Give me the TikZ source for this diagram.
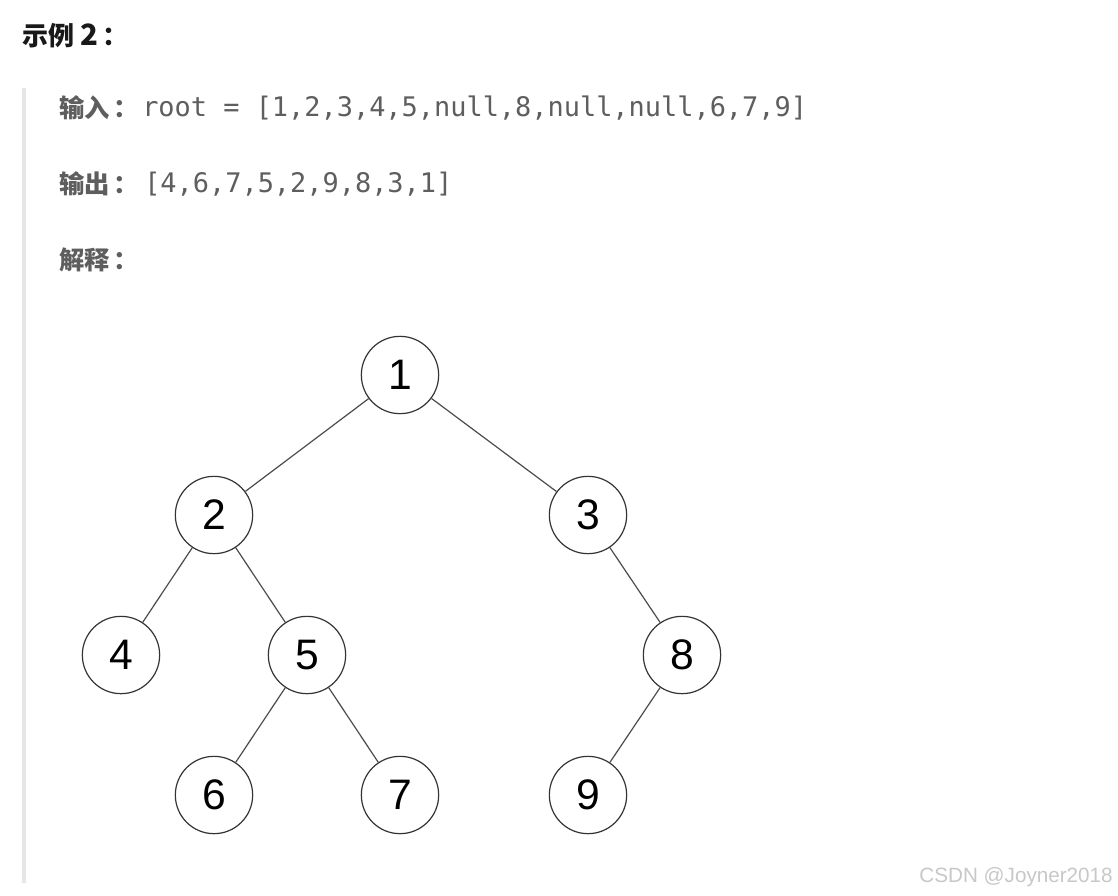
\documentclass[tikz,border=0pt]{standalone}
\usepackage{fontspec}
\setsansfont{Liberation Sans}
\newfontfamily\cjk{Noto Sans CJK SC}
\newfontfamily\codefont{DejaVu Sans Mono}
\usepackage{tikz}
\usepackage{xcolor}
\definecolor{textgray}{HTML}{5E5E5E}
\definecolor{bargray}{HTML}{E6E6E6}
\definecolor{markgray}{HTML}{C8C8C8}

\begin{document}
\begin{tikzpicture}[x=0.75pt,y=-0.75pt,
    treenode/.style={circle,draw=black!80,line width=0.9pt,minimum size=58pt,inner sep=0pt,
        font=\sffamily\fontsize{32}{32}\selectfont},
    link/.style={draw=black!70,line width=0.9pt},
    cnlabel/.style={anchor=west,inner sep=0pt,text=textgray,font=\cjk\bfseries\fontsize{19}{21}\selectfont},
    code/.style={anchor=west,inner sep=0pt,text=textgray,font=\codefont\fontsize{20.2}{22}\selectfont}
]

% page
\fill[white] (0,0) rectangle (1118,896);
\useasboundingbox (0,0) rectangle (1118,896);

% heading and quote bar
\node[anchor=west,inner sep=0pt,text=black!90,font=\cjk\bfseries\fontsize{19.5}{21}\selectfont] (title) at (22,36)
    {示例 {\fontsize{22}{22}\selectfont 2}\hspace{3pt}：};
\fill[bargray] (22,88) rectangle (26,883);

% input / output lines
\node[cnlabel] (inlbl) at (59,108) {输入\hspace{3pt}：};
\node[code] (incode) at (142,108) {root = [1,2,3,4,5,null,8,null,null,6,7,9]};
\node[cnlabel] (outlbl) at (59,184) {输出\hspace{3pt}：};
\node[code] (outcode) at (144,184) {[4,6,7,5,2,9,8,3,1]};
\node[cnlabel] (explbl) at (59,260) {解释\hspace{3pt}：};

% tree nodes
\node[treenode] (n1) at (400,375) {1};
\node[treenode] (n2) at (214,515) {2};
\node[treenode] (n3) at (588,515) {3};
\node[treenode] (n4) at (121,655) {4};
\node[treenode] (n5) at (307,655) {5};
\node[treenode] (n8) at (682,655) {8};
\node[treenode] (n6) at (214,795) {6};
\node[treenode] (n7) at (400,795) {7};
\node[treenode] (n9) at (588,795) {9};

% tree edges
\draw[link] (n1) -- (n2);
\draw[link] (n1) -- (n3);
\draw[link] (n2) -- (n4);
\draw[link] (n2) -- (n5);
\draw[link] (n3) -- (n8);
\draw[link] (n5) -- (n6);
\draw[link] (n5) -- (n7);
\draw[link] (n8) -- (n9);

% watermark
\node[anchor=east,inner sep=0pt,text=markgray,font=\sffamily\fontsize{15.5}{16}\selectfont] (mark) at (1113,877) {CSDN @Joyner2018};

\end{tikzpicture}
\end{document}
